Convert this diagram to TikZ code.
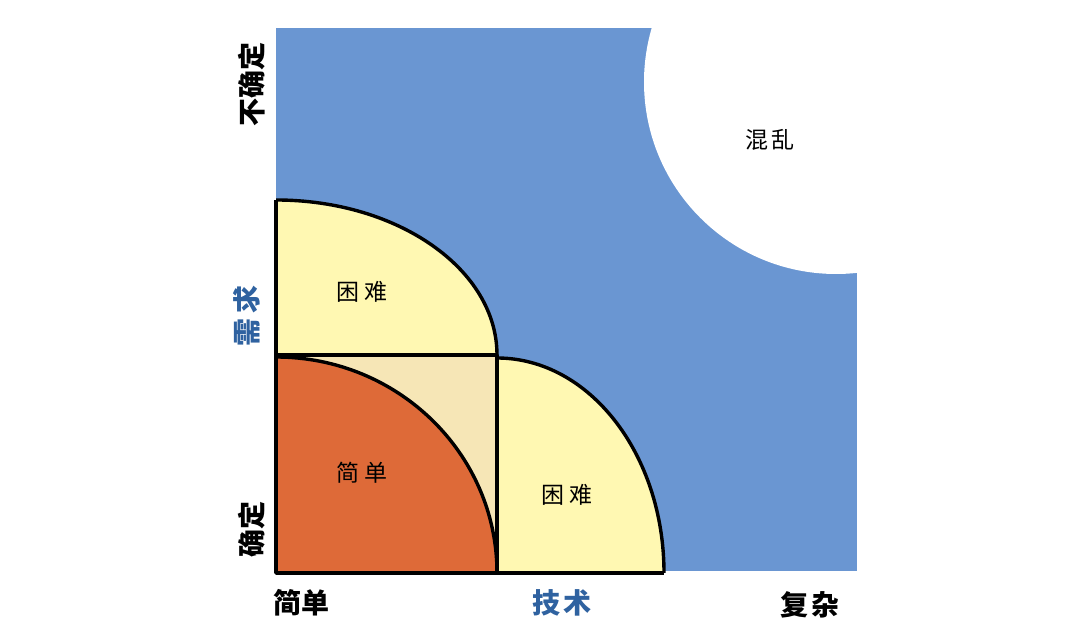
\documentclass[tikz,border=0pt]{standalone}
\usepackage{fontspec}
\newfontfamily\cjk{Noto Sans CJK SC}
\definecolor{bluefill}{HTML}{6A96D2}
\definecolor{yellowfill}{HTML}{FFF8B2}
\definecolor{orangefill}{HTML}{DE6A38}
\definecolor{tanfill}{HTML}{F6E6B6}
\definecolor{labelblue}{HTML}{2F62A0}
\tikzset{
  region/.style={draw=black, line width=3.4pt, line join=round},
  inlabel/.style={font=\cjk\fontsize{23}{25}\selectfont, text=black},
  axislabel/.style={font=\cjk\bfseries\fontsize{28}{30}\selectfont, text=black},
}
\begin{document}
\begin{tikzpicture}[x=1pt,y=1pt]
\useasboundingbox (0,0) rectangle (1080,639);
\fill[white] (0,0) rectangle (1080,639);
% blue background region
\fill[bluefill] (276,68) rectangle (857,611);
% chaos circle (white)
\fill[white] (836,557) circle[radius=192];
% top-left yellow quarter (requirements difficult)
\fill[yellowfill] (276,284) -- (276,439) arc[start angle=90,end angle=0,x radius=221,y radius=155] -- cycle;
\draw[region] (276,439) arc[start angle=90,end angle=0,x radius=221,y radius=155];
% tan square
\fill[tanfill] (276,66) rectangle (497,284);
% orange quarter (simple)
\fill[orangefill] (276,66) -- (276,282) arc[start angle=90,end angle=0,x radius=221,y radius=216] -- cycle;
\draw[region] (276,282) arc[start angle=90,end angle=0,x radius=221,y radius=216];
% right yellow quarter (technology difficult)
\fill[yellowfill] (497,66) -- (497,281) arc[start angle=90,end angle=0,x radius=167,y radius=215] -- cycle;
\draw[region] (497,281) arc[start angle=90,end angle=0,x radius=167,y radius=215];
% border lines
\draw[region] (276,439) -- (276,66) -- (664,66);
\draw[region] (276,284) -- (497,284) -- (497,66);
% inner labels
\node[inlabel] (chaos) at (770,499) {混\hspace{4pt}乱};
\node[inlabel] (reqhard) at (362,347) {困\hspace{6pt}难};
\node[inlabel] (simple) at (362,166) {简\hspace{6pt}单};
\node[inlabel] (techhard) at (567,144) {困\hspace{6pt}难};
% axis labels
\node[axislabel, rotate=90] (uncertain) at (252,554) {不确定};
\node[axislabel, rotate=90, text=labelblue] (req) at (247,323) {需\hspace{5pt}求};
\node[axislabel, rotate=90] (certain) at (252,109) {确定};
\node[axislabel] (xsimple) at (301,36) {简单};
\node[axislabel, text=labelblue] (tech) at (562,36) {技\hspace{3pt}术};
\node[axislabel] (complex) at (810,34) {复\hspace{3pt}杂};
\end{tikzpicture}
\end{document}
